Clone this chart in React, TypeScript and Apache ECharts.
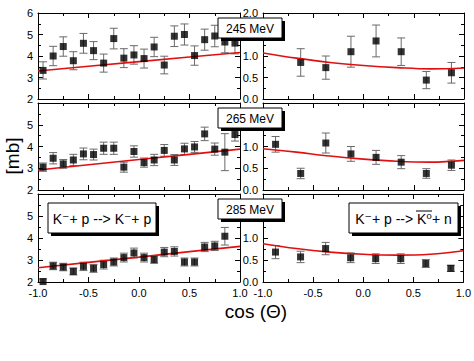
import React, { useEffect, useRef } from 'react';
import * as echarts from 'echarts';

const FONT = '"Liberation Sans", Arial, "DejaVu Sans", sans-serif';

// bin centres
const X_LEFT = [-0.95, -0.85, -0.75, -0.65, -0.55, -0.45, -0.35, -0.25, -0.15, -0.05, 0.05, 0.15, 0.25, 0.35, 0.45, 0.55, 0.65, 0.75, 0.85, 0.95];
const X_RIGHT = [-0.875, -0.625, -0.375, -0.125, 0.125, 0.375, 0.625, 0.875];

// K- p -> K- p (elastic), [mb]
const EL_245 = [3.33, 4.0, 4.44, 3.78, 4.59, 4.25, 3.67, 4.81, 3.9, 4.05, 3.88, 4.42, 3.58, 4.92, 5.0, 4.02, 4.76, 4.93, 4.65, 4.6];
const EL_245_ERR = [0.4, 0.45, 0.45, 0.42, 0.46, 0.42, 0.42, 0.48, 0.44, 0.43, 0.44, 0.45, 0.41, 0.48, 0.49, 0.45, 0.49, 0.5, 0.5, 0.5];
const EL_265 = [3.05, 3.46, 3.2, 3.38, 3.66, 3.63, 3.92, 3.92, 3.05, 3.77, 3.26, 3.38, 3.82, 3.38, 3.89, 3.98, 4.58, 3.88, 3.74, 4.55];
const EL_265_ERR = [0.19, 0.26, 0.2, 0.26, 0.27, 0.25, 0.28, 0.28, 0.23, 0.26, 0.21, 0.26, 0.27, 0.25, 0.26, 0.25, 0.31, 0.28, 0.85, 0.3];
const EL_285 = [2.02, 2.73, 2.68, 2.48, 2.71, 2.62, 2.79, 2.91, 3.11, 3.32, 3.11, 3.02, 3.36, 3.39, 2.91, 2.91, 3.59, 3.64, 4.08];
const EL_285_ERR = [0.12, 0.17, 0.17, 0.16, 0.19, 0.18, 0.2, 0.18, 0.2, 0.22, 0.2, 0.17, 0.21, 0.21, 0.18, 0.18, 0.21, 0.21, 0.4];

// K- p -> K0bar n (charge exchange), [mb]
const CE_245 = [null, 0.85, 0.73, 1.10, 1.35, 1.10, 0.44, 0.61];
const CE_245_ERR = [0, 0.32, 0.27, 0.36, 0.37, 0.32, 0.2, 0.24];
const CE_265 = [1.05, 0.38, 1.08, 0.83, 0.75, 0.64, 0.38, 0.57];
const CE_265_ERR = [0.18, 0.12, 0.23, 0.17, 0.16, 0.15, 0.11, 0.12];
const CE_285 = [0.68, 0.57, 0.76, 0.55, 0.53, 0.53, 0.42, 0.31];
const CE_285_ERR = [0.15, 0.13, 0.14, 0.11, 0.11, 0.11, 0.09, 0.07];

// model curves
const CURVE_X_LEFT = [-1, -0.5, 0, 0.5, 1];
const CURVE_EL_245 = [3.30, 3.52, 3.74, 3.95, 4.16];
const CURVE_EL_265 = [2.92, 3.16, 3.40, 3.64, 3.88];
const CURVE_EL_285 = [2.65, 2.89, 3.13, 3.38, 3.62];
const CURVE_X_RIGHT = [-1, -0.667, -0.333, 0, 0.333, 0.667, 1];
const CURVE_CE_245 = [1.07, 0.95, 0.85, 0.78, 0.73, 0.70, 0.72];
const CURVE_CE_265 = [0.95, 0.87, 0.78, 0.71, 0.66, 0.64, 0.68];
const CURVE_CE_285 = [0.87, 0.76, 0.68, 0.63, 0.61, 0.63, 0.71];

const ENERGY_LABELS = ['245 MeV', '265 MeV', '285 MeV'];
const X_TITLE = 'cos (\u0398)';
const Y_TITLE = '[mb]';
const REACTION_EL = 'K\u207B+ p --> K\u207B+ p';
const REACTION_CE = 'K\u207B+ p --> K\u2070+ n';

type Panel = {
  xs: number[]; ys: (number | null)[]; errs: number[];
  cx: number[]; cy: number[]; left: boolean;
};

const PANELS: Panel[] = [
  { xs: X_LEFT, ys: EL_245, errs: EL_245_ERR, cx: CURVE_X_LEFT, cy: CURVE_EL_245, left: true },
  { xs: X_RIGHT, ys: CE_245, errs: CE_245_ERR, cx: CURVE_X_RIGHT, cy: CURVE_CE_245, left: false },
  { xs: X_LEFT, ys: EL_265, errs: EL_265_ERR, cx: CURVE_X_LEFT, cy: CURVE_EL_265, left: true },
  { xs: X_RIGHT, ys: CE_265, errs: CE_265_ERR, cx: CURVE_X_RIGHT, cy: CURVE_CE_265, left: false },
  { xs: X_LEFT, ys: EL_285, errs: EL_285_ERR, cx: CURVE_X_LEFT, cy: CURVE_EL_285, left: true },
  { xs: X_RIGHT, ys: CE_285, errs: CE_285_ERR, cx: CURVE_X_RIGHT, cy: CURVE_CE_285, left: false },
];

const ROW_TOP = [13, 103, 194];
const ROW_H = [86, 87, 88];
const COL_LEFT = [38, 263];
const COL_W = [202, 201];

function buildOption() {
  const grid: any[] = [];
  const xAxis: any[] = [];
  const yAxis: any[] = [];
  const series: any[] = [];
  PANELS.forEach((p, i) => {
    const r = Math.floor(i / 2);
    const c = i % 2;
    grid.push({ left: COL_LEFT[c], top: ROW_TOP[r], width: COL_W[c], height: ROW_H[r], containLabel: false });
    const lineStyle = { color: '#000', width: 1 };
    const baseX = {
      gridIndex: i, type: 'value', min: -1, max: 1, interval: 0.5,
      axisLine: { show: true, onZero: false, lineStyle },
      axisTick: { show: true, inside: true, length: 5, lineStyle },
      minorTick: { show: true, splitNumber: 2, length: 3, lineStyle },
      splitLine: { show: false },
    };
    xAxis.push({
      ...baseX, position: 'bottom',
      axisLabel: { show: r === 2, margin: 5, fontSize: 11, color: '#000', fontFamily: FONT, formatter: (v: number) => v.toFixed(1) },
    });
    xAxis.push({ ...baseX, position: 'top', axisLabel: { show: false } });
    const ymin = p.left ? 2 : 0;
    const ymax = p.left ? 6 : 2;
    const yint = p.left ? 1 : 0.5;
    const baseY = {
      gridIndex: i, type: 'value', min: ymin, max: ymax, interval: yint,
      axisLine: { show: true, onZero: false, lineStyle },
      axisTick: { show: true, inside: true, length: 5, lineStyle },
      minorTick: { show: true, splitNumber: 2, length: 3, lineStyle },
      splitLine: { show: false },
    };
    yAxis.push({
      ...baseY, position: 'left',
      axisLabel: {
        show: true, margin: 5, fontSize: 11, color: '#000', fontFamily: FONT,
        formatter: (v: number) => {
          if (r > 0 && Math.abs(v - ymax) < 1e-9) return '';
          if (!p.left && Math.abs(v - 1.5) < 1e-9) return ''; // covered by energy label box
          return p.left ? String(v) : v.toFixed(1);
        },
      },
    });
    yAxis.push({ ...baseY, position: 'right', axisLabel: { show: false } });

    const errData: any[] = [];
    const ptData: any[] = [];
    p.xs.forEach((x, k) => {
      const y = p.ys[k];
      if (y === null || y === undefined) return;
      errData.push([x, y - p.errs[k], y + p.errs[k]]);
      ptData.push([x, y]);
    });
    series.push({
      type: 'custom', xAxisIndex: 2 * i, yAxisIndex: 2 * i, clip: true,
      data: errData, encode: { x: 0, y: [1, 2] }, z: 2,
      renderItem: (params: any, api: any) => {
        const x = api.value(0), lo = api.value(1), hi = api.value(2);
        const a = api.coord([x, lo]);
        const b = api.coord([x, hi]);
        const w = 4;
        const style = { stroke: '#6a6a6a', lineWidth: 1, fill: null };
        return {
          type: 'group', children: [
            { type: 'line', shape: { x1: a[0], y1: a[1], x2: b[0], y2: b[1] }, style },
            { type: 'line', shape: { x1: a[0] - w, y1: a[1], x2: a[0] + w, y2: a[1] }, style },
            { type: 'line', shape: { x1: b[0] - w, y1: b[1], x2: b[0] + w, y2: b[1] }, style },
          ],
        };
      },
    });
    series.push({
      type: 'line', xAxisIndex: 2 * i, yAxisIndex: 2 * i, z: 3,
      data: p.cx.map((x, k) => [x, p.cy[k]]), smooth: p.left ? false : 0.4,
      showSymbol: false, lineStyle: { color: '#e01010', width: 1.6 },
    });
    series.push({
      type: 'scatter', xAxisIndex: 2 * i, yAxisIndex: 2 * i, z: 4,
      data: ptData, symbol: 'rect', symbolSize: 7, itemStyle: { color: '#000' },
    });
  });

  const box = (x: number, y: number, w: number, h: number, text: string, fontSize: number, tx?: number) => [
    { type: 'rect', z: 100, shape: { x: x + 3, y: y + 3, width: w, height: h }, style: { fill: '#000' } },
    { type: 'rect', z: 101, shape: { x, y, width: w, height: h }, style: { fill: '#fff', stroke: '#000', lineWidth: 1 } },
    { type: 'text', z: 102, x: tx ?? x + w / 2, y: y + h / 2 + 1, style: { text, fontSize, fill: '#000', align: 'center', verticalAlign: 'middle', fontFamily: FONT } },
  ];

  const graphic: any[] = [];
  ENERGY_LABELS.forEach((t, r) => {
    graphic.push(...box(218, ROW_TOP[r] + 5, 64, 20, t, 12));
  });
  graphic.push(...box(48, 203, 108, 30, REACTION_EL, 14));
  graphic.push(...box(349, 203, 109, 30, REACTION_CE, 14));
  // bar over K in K0bar
  graphic.push({ type: 'line', z: 103, shape: { x1: 416, y1: 211, x2: 432, y2: 211 }, style: { stroke: '#000', lineWidth: 1 } });
  graphic.push({ type: 'text', z: 102, x: 256, y: 311, style: { text: X_TITLE, fontSize: 19, fill: '#000', align: 'center', verticalAlign: 'middle', fontFamily: FONT } });
  graphic.push({ type: 'text', z: 102, x: 12, y: 156, rotation: Math.PI / 2, style: { text: Y_TITLE, fontSize: 19, fill: '#000', align: 'center', verticalAlign: 'middle', fontFamily: FONT } });

  return { animation: false, backgroundColor: '#fff', grid, xAxis, yAxis, series, graphic };
}

export default function App() {
  const ref = useRef<HTMLDivElement>(null);
  useEffect(() => {
    if (!ref.current) return;
    const chart = echarts.init(ref.current, undefined, { renderer: 'svg' });
    chart.setOption(buildOption() as any);
    return () => chart.dispose();
  }, []);
  return <div ref={ref} style={{ position: 'fixed', left: 0, top: 0, width: 474, height: 361 }} />;
}
